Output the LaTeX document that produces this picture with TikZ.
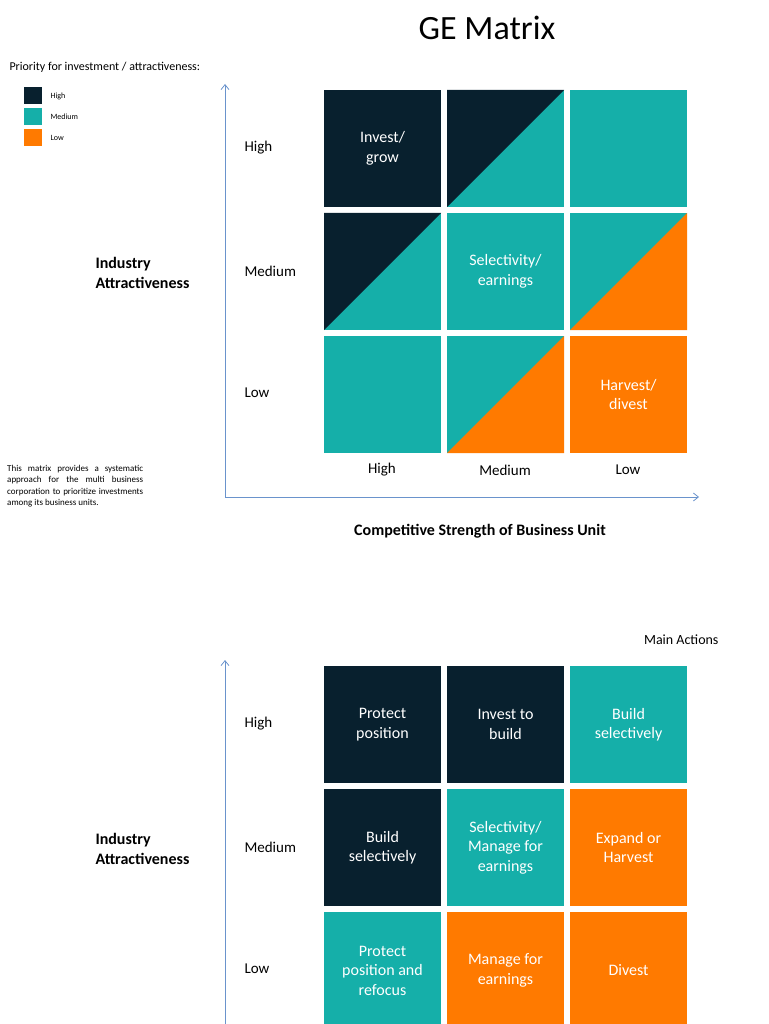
\documentclass[tikz,border=0pt]{standalone}
\usepackage{fontspec}
\setmainfont{Carlito}
\usetikzlibrary{arrows.meta}
\definecolor{dk}{HTML}{08202E}
\definecolor{tl}{HTML}{15AFA9}
\definecolor{og}{HTML}{FF7A00}
\definecolor{ax}{HTML}{6A93CC}
\tikzset{cell/.style={minimum width=117pt,minimum height=117pt,inner sep=0pt,text=white,font=\fontsize{16}{19.5}\selectfont,align=center},
lab/.style={font=\fontsize{15}{18}\selectfont},
axis/.style={ax,line width=0.8pt,-{Straight Barb[length=5pt,width=8pt]}}}
\begin{document}
\begin{tikzpicture}[x=1pt,y=-1pt]
\useasboundingbox (0,0) rectangle (768,1024);
\clip (0,0) rectangle (768,1024);
\node (title) at (487,28) {\fontsize{34}{40}\selectfont GE Matrix};
\node[anchor=west,font=\fontsize{12}{14}\selectfont] (prio) at (6,67) {Priority for investment / attractiveness:};
\fill[dk] (24,87) rectangle (42,104); \node[anchor=west,font=\fontsize{8}{10}\selectfont] (lh) at (47,96) {High};
\fill[tl] (24,108) rectangle (42,125); \node[anchor=west,font=\fontsize{8}{10}\selectfont] (lm) at (47,117) {Medium};
\fill[og] (24,129) rectangle (42,146); \node[anchor=west,font=\fontsize{8}{10}\selectfont] (ll) at (47,138) {Low};
\node[anchor=north west,text width=136pt,align=justify,font=\fontsize{9}{11.5}\selectfont,inner sep=0pt] (desc) at (7,465) {This matrix provides a systematic approach for the multi business corporation to prioritize investments among its business units.};
% top matrix
\coordinate (o1) at (225,497);
\coordinate (yt1) at (225,84);
\coordinate (xr1) at (699,497);
\draw[axis] (o1) -- (yt1);
\draw[axis] (o1) -- (xr1);
\node[cell,fill=dk] (a11) at (382.5,148.5) {Invest/\\grow};
\fill[tl] (447,90) rectangle (564,207); \fill[dk] (447,90) -- (564,90) -- (447,207) -- cycle;
\node[cell] (a12) at (505.5,148.5) {};
\node[cell,fill=tl] (a13) at (628.5,148.5) {};
\fill[tl] (324,213) rectangle (441,330); \fill[dk] (324,213) -- (441,213) -- (324,330) -- cycle;
\node[cell] (a21) at (382.5,271.5) {};
\node[cell,fill=tl] (a22) at (505.5,271.5) {Selectivity/\\earnings};
\fill[tl] (570,213) rectangle (687,330); \fill[og] (687,213) -- (687,330) -- (570,330) -- cycle;
\node[cell] (a23) at (628.5,271.5) {};
\node[cell,fill=tl] (a31) at (382.5,394.5) {};
\fill[tl] (447,336) rectangle (564,453); \fill[og] (564,336) -- (564,453) -- (447,453) -- cycle;
\node[cell] (a32) at (505.5,394.5) {};
\node[cell,fill=og] (a33) at (628.5,394.5) {Harvest/\\divest};
\node[lab,anchor=west] (h1) at (241,148) {High};
\node[lab,anchor=west] (m1) at (241,271) {Medium};
\node[lab,anchor=west] (l1) at (241,393) {Low};
\node[lab] (ch) at (382,470) {High};
\node[lab] (cm) at (505,470) {Medium};
\node[lab] (cl) at (628,470) {Low};
\node[lab,font=\bfseries\fontsize{16}{20}\selectfont,anchor=west,align=left] (ia1) at (92,273) {Industry\\Attractiveness};
\node[font=\bfseries\fontsize{16}{20}\selectfont] (cs) at (480,531) {Competitive Strength of Business Unit};
% bottom matrix
\node[anchor=east,font=\fontsize{14}{16}\selectfont] (ma) at (722,640) {\textsc{Main Actions}};
\coordinate (o2) at (225,1030);
\coordinate (yt2) at (225,660);
\draw[axis] (o2) -- (yt2);
\node[cell,fill=dk] (b11) at (382.5,724.5) {Protect\\position};
\node[cell,fill=dk] (b12) at (505.5,724.5) {Invest to\\build};
\node[cell,fill=tl] (b13) at (628.5,724.5) {Build\\selectively};
\node[cell,fill=dk] (b21) at (382.5,847.5) {Build\\selectively};
\node[cell,fill=tl] (b22) at (505.5,847.5) {Selectivity/\\Manage for\\earnings};
\node[cell,fill=og] (b23) at (628.5,847.5) {Expand or\\Harvest};
\node[cell,fill=tl] (b31) at (382.5,970.5) {Protect\\position and\\refocus};
\node[cell,fill=og] (b32) at (505.5,970.5) {Manage for\\earnings};
\node[cell,fill=og] (b33) at (628.5,970.5) {Divest};
\node[lab,anchor=west] (h2) at (241,724) {High};
\node[lab,anchor=west] (m2) at (241,847) {Medium};
\node[lab,anchor=west] (l2) at (241,969) {Low};
\node[lab,font=\bfseries\fontsize{16}{20}\selectfont,anchor=west,align=left] (ia2) at (92,849) {Industry\\Attractiveness};
\end{tikzpicture}
\end{document}
